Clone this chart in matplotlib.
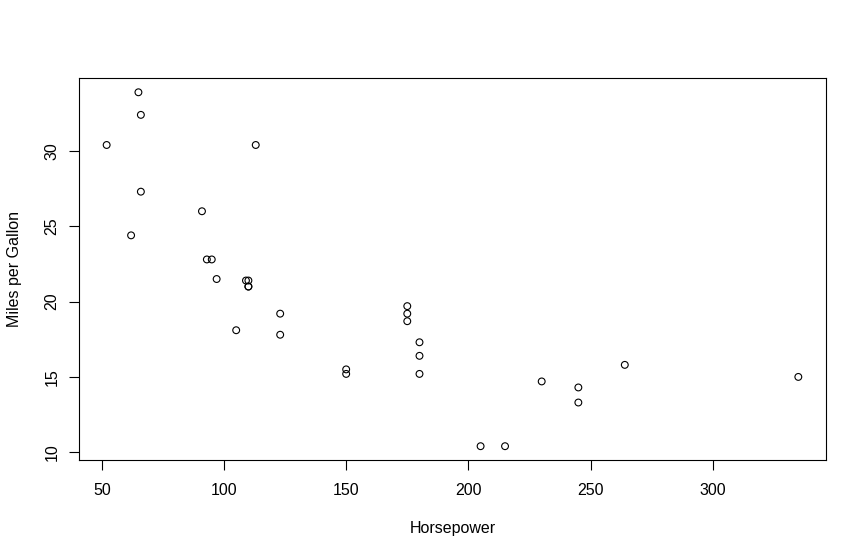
import matplotlib
matplotlib.use("Agg")
import matplotlib.pyplot as plt

plt.rcParams['font.family'] = ['Liberation Sans', 'DejaVu Sans']

# mtcars: horsepower vs miles per gallon
hp = [110, 110, 93, 110, 175, 105, 245, 62, 95, 123, 123, 180, 180, 180, 205, 215,
      230, 66, 52, 65, 97, 150, 150, 245, 175, 66, 91, 113, 264, 175, 335, 109]
mpg = [21.0, 21.0, 22.8, 21.4, 18.7, 18.1, 14.3, 24.4, 22.8, 19.2, 17.8, 16.4, 17.3, 15.2, 10.4, 10.4,
       14.7, 32.4, 30.4, 33.9, 21.5, 15.5, 15.2, 13.3, 19.2, 27.3, 26.0, 30.4, 15.8, 19.7, 15.0, 21.4]
x_ticks = [50, 100, 150, 200, 250, 300]
y_ticks = [10, 15, 20, 25, 30]

fig = plt.figure(figsize=(8.67, 5.58), dpi=100)
ax = fig.add_axes([0.0911, 0.175, 0.8616, 0.685])

ax.scatter(hp, mpg, s=24, facecolors='none', edgecolors='black', linewidths=0.8)

# R-style 4% padding
xr = max(hp) - min(hp)
yr = max(mpg) - min(mpg)
ax.set_xlim(min(hp) - 0.04 * xr, max(hp) + 0.04 * xr)
ax.set_ylim(min(mpg) - 0.04 * yr, max(mpg) + 0.04 * yr)

ax.set_xticks(x_ticks)
ax.set_yticks(y_ticks)
ax.tick_params(direction='out', length=7, width=0.8, labelsize=11.5)
ax.tick_params(axis='x', pad=9)
ax.tick_params(axis='y', pad=7)
for lab in ax.get_yticklabels():
    lab.set_rotation(90)
    lab.set_va('center')
for sp in ax.spines.values():
    sp.set_linewidth(0.8)

ax.set_xlabel("Horsepower", fontsize=11.5, labelpad=17)
ax.set_ylabel("Miles per Gallon", fontsize=11.5, labelpad=16)

fig.savefig("out.png", dpi=100)
